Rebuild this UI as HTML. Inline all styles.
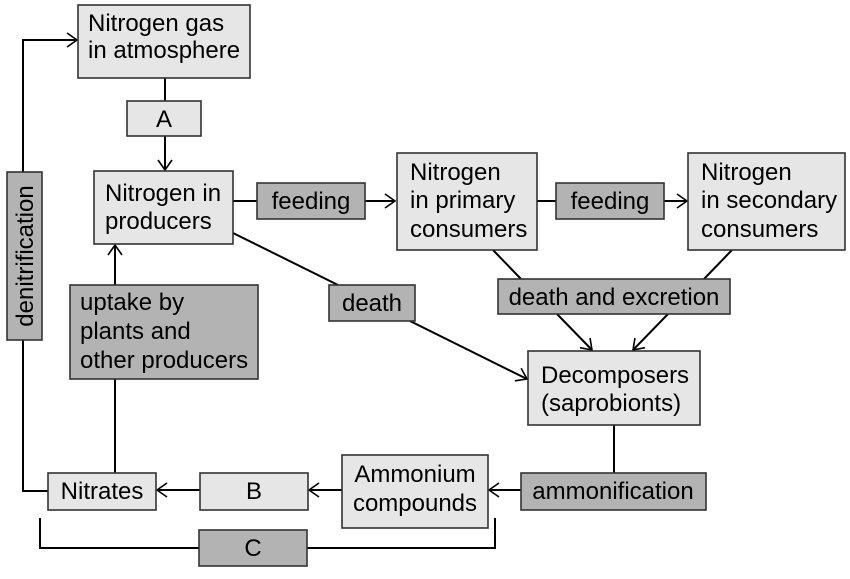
<!DOCTYPE html>
<html><head><meta charset="utf-8"><style>
body{margin:0;background:#fff}
svg text{font-family:"Liberation Sans",Arial,sans-serif;font-size:24px;fill:#000}
</style></head><body>
<svg width="850" height="574" xmlns="http://www.w3.org/2000/svg">
<defs><marker id="a" viewBox="0 0 12 16" refX="11" refY="8" markerWidth="12" markerHeight="16" markerUnits="userSpaceOnUse" orient="auto"><path d="M1,1 L11,8 L1,15" fill="none" stroke="#000" stroke-width="1.6"/></marker></defs>
<g stroke="#000" stroke-width="2" fill="none">
<line x1="165" y1="78" x2="165" y2="101"/>
<line x1="165" y1="136" x2="165" y2="170" marker-end="url(#a)"/>
<line x1="233" y1="201" x2="257" y2="201"/>
<line x1="365" y1="201" x2="395" y2="201" marker-end="url(#a)"/>
<line x1="537" y1="201" x2="556" y2="201"/>
<line x1="664" y1="201" x2="687" y2="201" marker-end="url(#a)"/>
<polyline points="23,172 23,40 77,40" marker-end="url(#a)"/>
<polyline points="23,340 23,491 48,491"/>
<line x1="233" y1="233" x2="338" y2="285"/>
<line x1="410" y1="321" x2="527" y2="379" marker-end="url(#a)"/>
<line x1="115" y1="285" x2="115" y2="245" marker-end="url(#a)"/>
<line x1="115" y1="379" x2="115" y2="473"/>
<line x1="493" y1="250" x2="521" y2="279"/>
<line x1="732" y1="250" x2="704" y2="279"/>
<line x1="557" y1="314" x2="592" y2="350" marker-end="url(#a)"/>
<line x1="668" y1="314" x2="633" y2="350" marker-end="url(#a)"/>
<line x1="614" y1="425" x2="614" y2="473"/>
<line x1="521" y1="490" x2="489" y2="490" marker-end="url(#a)"/>
<line x1="342" y1="490" x2="309" y2="490" marker-end="url(#a)"/>
<line x1="200" y1="490" x2="157" y2="490" marker-end="url(#a)"/>
<polyline points="40,518 40,548 199,548"/>
<polyline points="307,548 495,548 495,518"/>
</g>
<g stroke="#333" stroke-width="1.6">
<rect x="78" y="5" width="172" height="73" fill="#e6e6e6"/>
<rect x="127" y="101" width="74" height="35" fill="#e6e6e6"/>
<rect x="94" y="171" width="139" height="73" fill="#e6e6e6"/>
<rect x="257" y="183" width="108" height="36" fill="#b3b3b3"/>
<rect x="397" y="153" width="140" height="97" fill="#e6e6e6"/>
<rect x="556" y="183" width="108" height="36" fill="#b3b3b3"/>
<rect x="688" y="153" width="157" height="97" fill="#e6e6e6"/>
<rect x="7" y="172" width="35" height="168" fill="#b3b3b3"/>
<rect x="70" y="285" width="188" height="94" fill="#b3b3b3"/>
<rect x="329" y="285" width="86" height="36" fill="#b3b3b3"/>
<rect x="498" y="279" width="232" height="35" fill="#b3b3b3"/>
<rect x="528" y="351" width="172" height="74" fill="#e6e6e6"/>
<rect x="521" y="473" width="185" height="37" fill="#b3b3b3"/>
<rect x="342" y="455" width="146" height="73" fill="#e6e6e6"/>
<rect x="200" y="473" width="108" height="37" fill="#e6e6e6"/>
<rect x="48" y="473" width="108" height="37" fill="#e6e6e6"/>
<rect x="199" y="530" width="108" height="36" fill="#b3b3b3"/>
</g>
<text x="88" y="31">Nitrogen gas</text><text x="88" y="58">in atmosphere</text>
<text x="164" y="127" text-anchor="middle">A</text>
<text x="105" y="201">Nitrogen in</text><text x="105" y="229">producers</text>
<text x="311" y="209" text-anchor="middle">feeding</text>
<text x="410" y="180">Nitrogen</text><text x="410" y="208">in primary</text><text x="410" y="237">consumers</text>
<text x="610" y="209" text-anchor="middle">feeding</text>
<text x="701" y="180">Nitrogen</text><text x="701" y="208">in secondary</text><text x="701" y="237">consumers</text>
<text transform="translate(33,256) rotate(-90)" text-anchor="middle">denitrification</text>
<text x="80" y="310">uptake by</text><text x="80" y="339">plants and</text><text x="80" y="368">other producers</text>
<text x="372" y="311" text-anchor="middle">death</text>
<text x="614" y="305" text-anchor="middle">death and excretion</text>
<text x="541" y="383">Decomposers</text><text x="541" y="411">(saprobionts)</text>
<text x="613" y="499" text-anchor="middle">ammonification</text>
<text x="415" y="482" text-anchor="middle">Ammonium</text><text x="415" y="511" text-anchor="middle">compounds</text>
<text x="254" y="499" text-anchor="middle">B</text>
<text x="102" y="499" text-anchor="middle">Nitrates</text>
<text x="253" y="556" text-anchor="middle">C</text>
</svg>
</body></html>
